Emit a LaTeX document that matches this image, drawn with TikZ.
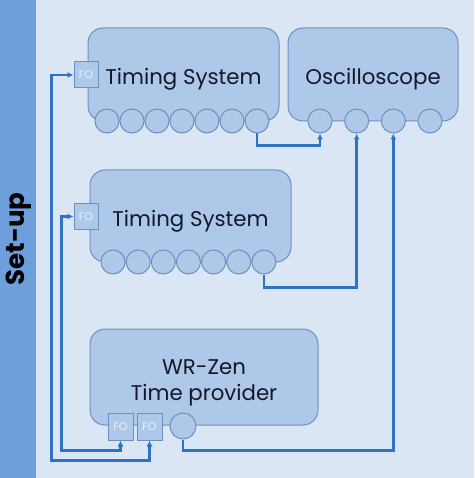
\documentclass[tikz,border=0pt]{standalone}
\usepackage{fontspec}
\setmainfont{Poppins}
\usetikzlibrary{arrows.meta,calc}
\definecolor{pagebg}{HTML}{DAE6F3}
\definecolor{sidebar}{HTML}{6C9FDC}
\definecolor{boxfill}{HTML}{ADC8E9}
\definecolor{boxline}{HTML}{6F8FBD}
\definecolor{wire}{HTML}{2F73C7}
\definecolor{fotext}{HTML}{E9F0F9}
\definecolor{ink}{HTML}{15172A}

\tikzset{
  device/.style={draw=boxline, fill=boxfill, line width=1pt, rounded corners=15pt, inner sep=0pt},
  devtext/.style={yshift=-5pt, inner sep=0pt, text=ink, font=\fontsize{21.3}{25.5}\selectfont, align=center},
  port/.style={circle, draw=boxline, fill=boxfill, line width=1pt, minimum size=24pt, inner sep=0pt},
  fobox/.style={draw=boxline, fill=boxfill, line width=1pt, inner sep=0pt, minimum width=24pt, minimum height=26pt, text=fotext, font=\fontsize{11}{13}\selectfont},
  link/.style={draw=wire, line width=2.4pt, -{Latex[length=6pt,width=6pt]}},
  duallink/.style={link, {Latex[length=6pt,width=6pt]}-{Latex[length=6pt,width=6pt]}},
}

\begin{document}
\begin{tikzpicture}[x=1pt,y=-1pt]
 \useasboundingbox (0,0) rectangle (474,478);
 \fill[pagebg] (0,0) rectangle (474,478);
 \fill[sidebar] (0,0) rectangle (36,478);
 \node[rotate=90, font=\fontsize{26}{30}\selectfont\bfseries, text=black] (setup) at (19,239) {Set-up};

 % devices
 \node[device, minimum width=191pt, minimum height=93pt, label={[devtext]center:Timing System}] (ts1) at (183.5,74.5) {};
 \node[device, minimum width=170pt, minimum height=93pt, label={[devtext]center:Oscilloscope}] (osc) at (373,74.5) {};
 \node[device, minimum width=201pt, minimum height=92pt, label={[devtext]center:Timing System}] (ts2) at (190.5,216) {};
 \node[device, minimum width=228pt, minimum height=96pt, label={[devtext, yshift=-1pt]center:WR-Zen\\Time provider}] (wrz) at (204,377) {};

 % ports
 \foreach \i in {1,...,7}
   \node[port] (ts1p\i) at ({82+25*\i},121) {};
 \foreach \i in {1,...,7}
   \node[port] (ts2p\i) at ({113+25.15*(\i-1)},262) {};
 \foreach \i in {1,...,4}
   \node[port] (oscp\i) at ({320+36.67*(\i-1)},121) {};
 \node[port, minimum size=26pt] (wrzp) at (183,426) {};

 % fibre outputs
 \node[fobox] (fo1) at (86,75) {FO};
 \node[fobox] (fo2) at (86,216.5) {FO};
 \node[fobox, minimum width=25pt, minimum height=27pt] (fo3) at (120.5,426.5) {FO};
 \node[fobox, minimum width=25pt, minimum height=27pt] (fo4) at (149.5,426.5) {FO};

 % connections
 \draw[link] (ts1p7.south) -- ++(0,12) -| (oscp1.south);
 \draw[link] (ts2p7.south) -- ++(0,13) -| (oscp2.south);
 \draw[link] (wrzp.south) -- ++(0,11) -| (oscp3.south);
 \draw[duallink] (fo1.west) -- ++(-22,0) |- ($(fo4.south)+(0,20)$) -- (fo4.south);
 \draw[duallink] (fo2.west) -- ++(-12,0) |- ($(fo3.south)+(0,10)$) -- (fo3.south);
\end{tikzpicture}
\end{document}
